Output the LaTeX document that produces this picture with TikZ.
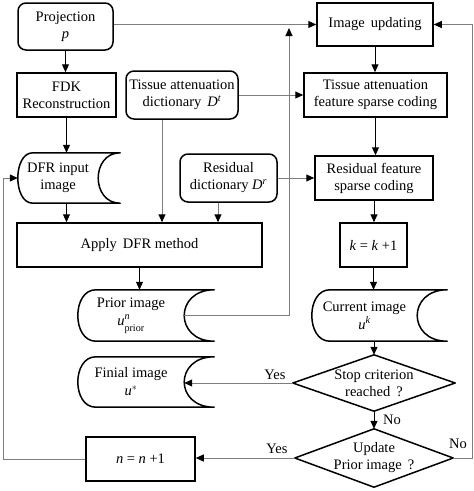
\documentclass[tikz,border=0pt]{standalone}
\usepackage{fontspec}
\usepackage{amsmath}
\setmainfont{Liberation Serif}
\usetikzlibrary{arrows.meta}
\definecolor{lgray}{RGB}{125,125,125}
\newcommand{\storeshape}[3]{%
  \draw[shapeline] ([xshift=#2]#1.north west) -- ([xshift=#3]#1.north east)
    .. controls ([xshift=-#3/3]#1.north east) and ([xshift=-#3/3]#1.south east) .. ([xshift=#3]#1.south east)
    -- ([xshift=#2]#1.south west)
    .. controls ([xshift=-#2/3]#1.south west) and ([xshift=-#2/3]#1.north west) .. cycle;}
\newcommand{\diamondshape}[1]{%
  \draw[shapeline] (#1.west) -- (#1.north) -- (#1.east) -- (#1.south) -- cycle;}
\begin{document}
\begin{tikzpicture}[x=1pt,y=-1pt,
  base/.style={align=center, inner sep=0pt, font=\fontsize{14.5}{17}\selectfont},
  shapeline/.style={line width=1.5pt, line join=round},
  sqbox/.style={base, draw, line width=1.5pt},
  rbox/.style={sqbox, rounded corners=8pt},
  bodynode/.style={base},
  conn/.style={line width=1pt, -{Triangle[length=8pt,width=7pt]}},
  gconn/.style={line width=1pt, draw=lgray, -{Triangle[length=8pt,width=7pt,color=black]}},
  gline/.style={line width=1pt, draw=lgray},
  lbl/.style={font=\fontsize{14.5}{17}\selectfont, inner sep=0pt}]
\useasboundingbox (0,0) rectangle (474,491);

% boxes
\node[rbox, minimum width=95, minimum height=47] (proj) at (65.5,26.5) {Projection\\\textit{p}};
\node[sqbox, minimum width=99, minimum height=44] (fdk) at (66.5,95) {FDK\\Reconstruction};
\node[rbox, minimum width=112, minimum height=48] (tdict) at (182,95) {Tissue attenuation\\dictionary\, \textit{D}\textsuperscript{\textit{t}}};
\node[sqbox, minimum width=116, minimum height=43] (imgupd) at (375,24.5) {Image\, updating};
\node[sqbox, minimum width=143, minimum height=44] (tfsc) at (375.5,95) {Tissue attenuation\\feature sparse coding};
\node[rbox, minimum width=97, minimum height=48] (rdict) at (228.5,178) {Residual\\dictionary \textit{D}\textsuperscript{\textit{r}}};
\node[sqbox, minimum width=118, minimum height=44] (rfsc) at (374,178) {Residual feature\\sparse coding};
\node[bodynode, minimum width=80, minimum height=50] (dfrin) at (58,178) {DFR input\\image};
\node[sqbox, minimum width=245, minimum height=44] (apply) at (139.5,245) {Apply\, DFR method};
\node[sqbox, minimum width=67, minimum height=44] (kbox) at (373.5,245) {\textit{k} = \textit{k} +1};
\node[bodynode, minimum width=106, minimum height=51] (prior) at (131,315.5) {Prior image\\[1pt]$\text{\itshape u}^{\text{\raisebox{1pt}{\itshape n}}}_{\text{\raisebox{-2pt}{prior}}}$};
\node[bodynode, minimum width=105, minimum height=51] (current) at (364.5,315.5) {Current image\\[1pt]$\text{\itshape u}^{\text{\itshape k}}$};
\node[bodynode, minimum width=106, minimum height=50] (finial) at (131,382) {Finial image\\[1pt]$\text{\itshape u}^{*}$};
\node[bodynode, minimum width=162, minimum height=56] (stop) at (374,383) {Stop criterion\\reached\, ?};
\node[bodynode, minimum width=158, minimum height=58] (upd) at (374,458) {Update\\Prior image\, ?};
\node[sqbox, minimum width=109, minimum height=44] (nbox) at (140.5,459) {\textit{n} = \textit{n} +1};

\storeshape{dfrin}{15}{22}
\storeshape{prior}{18}{30}
\storeshape{current}{18}{30}
\storeshape{finial}{18}{30}
\diamondshape{stop}
\diamondshape{upd}

% helper coordinates
\coordinate (tdx) at ([xshift=-20pt]tdict.south);
\coordinate (rdx) at ([xshift=-10.5pt]rdict.south);
\coordinate (pu) at (289,28);
\coordinate (rc) at (472,0);
\coordinate (lc) at (3,0);

% black short arrows
\draw[conn] (proj.south) -- (proj.south |- fdk.north);
\draw[conn] (fdk.south) -- (fdk.south |- dfrin.north);
\draw[conn] (fdk.south |- dfrin.south) -- (fdk.south |- apply.north);
\draw[conn] (apply.south) -- (apply.south |- prior.north);
\draw[conn] (imgupd.south) -- (imgupd.south |- tfsc.north);
\draw[conn] (tfsc.south) -- (tfsc.south |- rfsc.north);
\draw[conn] (rfsc.south) -- (rfsc.south |- kbox.north);
\draw[conn] (kbox.south) -- (kbox.south |- current.north);
\draw[conn] (stop.north |- current.south) -- (stop.north);
\draw[conn] (stop.south) -- (upd.north);

% gray connectors
\draw[gconn] (imgupd.west -| proj.east) -- (imgupd.west);
\draw[gconn] (tdict.east) -- (tdict.east -| tfsc.west);
\draw[gconn] (tdx) -- (tdx |- apply.north);
\draw[gconn] (rdict.east) -- (rdict.east -| rfsc.west);
\draw[gconn] (rdx) -- (rdx |- apply.north);
\draw[gconn] (prior.east) -| (pu);
\draw[gconn] (stop.west) -- (stop.west -| finial.east);
\draw[gconn] (upd.west) -- (upd.west -| nbox.east);
\draw[gconn] (upd.east) -| (rc |- imgupd.east) -- (imgupd.east);
\draw[gconn] (nbox.west) -| (lc |- dfrin.west) -- (dfrin.west);

% labels
\node[lbl] (yes1) at (275,375) {Yes};
\node[lbl] (yes2) at (277,449) {Yes};
\node[lbl] (no1) at (392,420) {No};
\node[lbl] (no2) at (458,444) {No};
\end{tikzpicture}
\end{document}
